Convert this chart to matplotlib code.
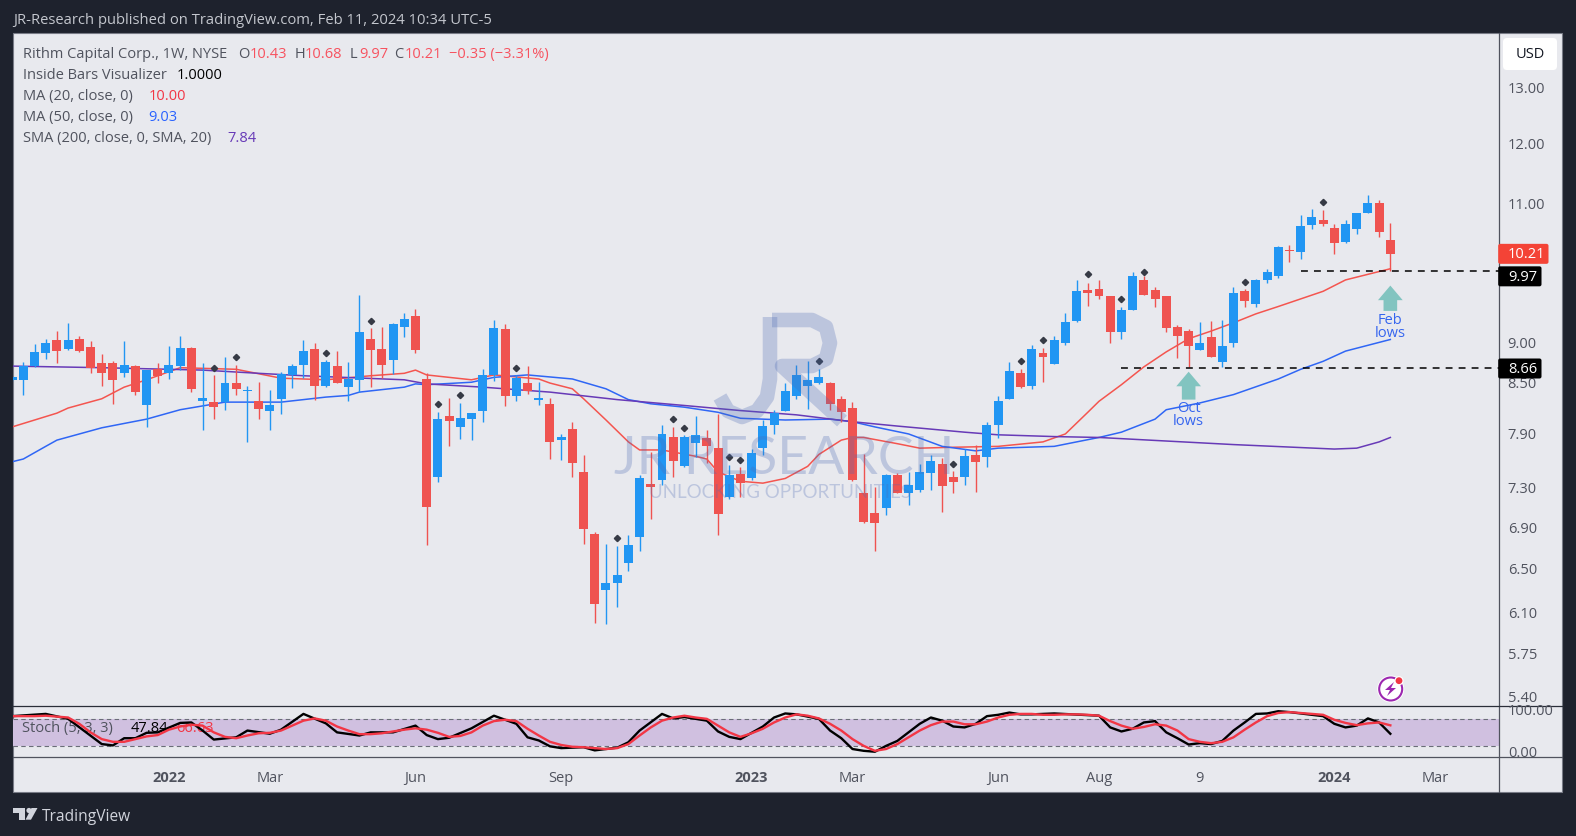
import matplotlib
matplotlib.use("Agg")
from matplotlib import pyplot as plt
from matplotlib.patches import Rectangle, FancyBboxPatch, Polygon, Circle

W, H = 1576, 837
LEFT, RIGHT, TOP, BOTTOM = 13.4, 1498.7, 34, 792.7
PANE_TOP, PANE_BOTTOM = 707.3, 758.3
DARK = "#1e222d"
CHART_BG = "#e8e9ee"
TXT = "#50535e"
BLUE = "#2196f3"
RED = "#ef5350"

# weekly candles, one entry per bar
opens = [8.52,8.52,8.69,8.86,9.02,8.91,9.04,8.93,8.73,8.73,8.60,8.69,8.22,8.65,8.60,8.69,8.92,8.26,8.25,8.25,
         8.48,8.38,8.26,8.15,8.29,8.58,8.70,8.91,8.44,8.69,8.43,8.52,9.04,8.91,8.77,9.19,9.34,8.53,7.41,8.09,
         7.96,8.05,8.14,8.58,9.17,8.32,8.48,8.27,8.23,7.81,7.94,7.46,6.82,6.29,6.36,6.54,6.79,7.33,7.37,7.84,
         7.52,7.78,7.83,7.72,7.20,7.44,7.39,7.72,7.98,8.14,8.32,8.44,8.48,8.48,8.29,8.18,7.24,7.03,7.08,7.43,
         7.24,7.27,7.45,7.55,7.41,7.41,7.64,7.62,7.98,8.29,8.60,8.44,8.86,8.72,8.98,9.28,9.70,9.71,9.61,9.13,
         9.42,9.84,9.70,9.61,9.20,9.14,8.89,9.06,8.74,8.98,9.68,9.50,9.84,9.90,10.28,10.25,10.65,10.73,10.60,10.39,
         10.59,10.84,11.00,10.43]
closes = [8.55,8.69,8.87,8.99,8.88,9.02,8.88,8.67,8.60,8.52,8.70,8.37,8.64,8.57,8.70,8.92,8.41,8.30,8.19,8.48,
          8.41,8.40,8.17,8.22,8.59,8.69,8.88,8.45,8.74,8.48,8.53,9.13,8.89,8.70,9.24,9.30,8.89,7.09,8.05,8.03,
          8.06,8.12,8.58,9.18,8.32,8.54,8.38,8.30,7.79,7.85,7.56,6.87,6.17,6.36,6.43,6.71,7.39,7.30,7.88,7.58,
          7.85,7.87,7.74,7.02,7.43,7.34,7.67,7.97,8.12,8.38,8.58,8.52,8.55,8.23,8.13,7.37,6.94,6.93,7.43,7.24,
          7.32,7.46,7.58,7.31,7.35,7.63,7.57,7.98,8.26,8.63,8.43,8.91,8.80,9.02,9.26,9.68,9.66,9.61,9.13,9.42,
          9.90,9.63,9.57,9.18,9.08,8.95,8.98,8.80,8.95,9.66,9.55,9.84,9.95,10.32,10.26,10.63,10.77,10.66,10.38,10.66,
          10.83,11.00,10.54,10.21]
highs = [8.56,8.74,8.97,9.04,9.14,9.25,9.07,9.01,8.84,8.75,9.01,8.70,8.64,8.73,8.95,9.07,8.93,8.73,8.58,8.80,
         8.70,8.44,8.49,8.40,8.62,8.72,9.02,8.98,8.77,8.88,8.74,9.63,9.18,9.20,9.25,9.38,9.44,8.60,8.13,8.30,
         8.24,8.12,8.65,9.29,9.24,8.58,8.69,8.49,8.30,7.88,8.02,7.64,6.84,6.72,6.70,6.81,7.43,7.68,7.98,7.96,
         7.87,8.09,7.92,8.11,7.54,7.51,7.71,8.04,8.16,8.48,8.70,8.75,8.65,8.49,8.32,8.25,7.65,7.30,7.44,7.45,
         7.46,7.55,7.64,7.61,7.47,7.71,7.76,8.02,8.32,8.74,8.65,8.96,8.92,9.08,9.38,9.84,9.79,9.84,9.61,9.46,
         9.95,9.90,9.74,9.61,9.22,9.17,9.26,9.28,9.29,9.74,9.71,9.85,10.00,10.33,10.35,10.81,10.90,10.88,10.66,10.73,
         10.84,11.12,11.04,10.68]
lows = [8.51,8.33,8.68,8.78,8.73,8.90,8.87,8.60,8.44,8.23,8.55,8.33,7.96,8.48,8.53,8.64,8.37,7.92,8.05,8.16,
        8.33,7.79,8.05,7.92,8.11,8.42,8.54,8.28,8.43,8.48,8.26,8.37,8.43,8.54,8.59,9.06,8.85,6.71,7.35,7.74,
        7.82,7.81,8.02,8.51,8.20,8.26,8.35,8.22,7.60,7.59,7.41,6.72,6.00,5.99,6.14,6.47,6.66,6.97,7.32,7.41,
        7.51,7.62,7.56,6.81,7.17,7.20,7.37,7.64,7.88,8.14,8.29,8.17,8.47,8.16,8.02,7.36,6.93,6.66,7.01,7.24,
        7.11,7.25,7.27,7.04,7.24,7.32,7.25,7.51,7.83,8.29,8.42,8.41,8.49,8.72,8.96,9.26,9.48,9.57,8.98,9.04,
        9.42,9.63,9.46,9.13,8.79,8.68,8.89,8.80,8.68,8.93,9.46,9.46,9.79,9.87,10.10,10.14,10.59,10.63,10.21,10.38,
        10.51,10.84,10.47,9.97]

# moving averages, read at the bars where the line bends
ma20_idx = [0,4,5,8,9,10,12,15,20,24,28,32,35,36,37,41,43,47,48,50,51,53,55,56,58,61,62,63,65,67,69,71,72,74,75,76,79,81,84,88,92,94,96,97,99,101,103,105,107,109,111,113,117,119,121,123]
ma20 = [7.96,8.12,8.18,8.29,8.36,8.43,8.52,8.67,8.65,8.54,8.52,8.57,8.60,8.64,8.58,8.52,8.58,8.53,8.48,8.41,8.29,8.04,7.79,7.70,7.70,7.63,7.60,7.46,7.36,7.34,7.39,7.52,7.65,7.81,7.84,7.84,7.77,7.72,7.73,7.74,7.79,7.88,8.13,8.26,8.46,8.68,8.87,9.04,9.14,9.25,9.37,9.47,9.68,9.84,9.92,10.00]
ma50_idx = [0,1,3,4,8,10,12,15,19,24,28,30,31,35,36,37,41,43,46,50,53,55,57,60,63,65,69,73,75,77,80,83,86,88,93,95,97,99,102,103,106,109,113,115,117,119,123]
ma50 = [7.57,7.60,7.74,7.81,7.95,8.00,8.05,8.16,8.25,8.25,8.31,8.33,8.37,8.43,8.47,8.46,8.49,8.55,8.58,8.53,8.41,8.28,8.23,8.19,8.13,8.06,8.04,8.05,8.02,7.96,7.88,7.74,7.69,7.72,7.74,7.79,7.84,7.90,8.05,8.16,8.24,8.34,8.53,8.65,8.75,8.88,9.03]
sma200_idx = [0,8,17,22,26,35,37,42,48,52,54,60,65,70,75,79,85,88,93,97,109,118,120,122,123]
sma200 = [8.69,8.67,8.64,8.60,8.57,8.52,8.47,8.43,8.37,8.31,8.28,8.21,8.15,8.10,8.02,7.97,7.90,7.87,7.85,7.84,7.76,7.71,7.72,7.79,7.84]

# inside bar markers
inside_idx = [18,20,28,32,38,40,45,54,59,60,64,65,72,84,90,92,96,99,101,110,117]
inside_px = [8.67,8.80,8.86,9.28,8.23,8.33,8.67,6.78,8.05,7.95,7.62,7.59,8.75,7.55,8.75,9.02,9.92,9.57,9.95,9.81,11.01]

# stochastic pane
stoch_k_idx = [0,3,5,8,9,10,11,12,13,15,16,17,18,20,21,23,24,26,28,29,31,32,34,36,37,38,39,41,43,45,46,47,48,49,51,52,54,55,56,58,59,60,62,63,64,65,67,68,69,70,72,73,74,75,76,77,78,79,81,82,83,84,85,86,87,88,89,90,91,93,97,98,99,100,101,102,103,104,105,106,107,108,109,110,111,112,113,114,117,118,119,120,121,122,123]
stoch_k = [87,92,81,25,22,38,38,50,51,72,73,55,35,40,55,48,57,92,71,51,44,51,51,66,45,36,39,60,88,70,40,33,20,16,18,11,17,29,55,92,82,85,77,53,41,36,64,84,93,91,81,55,38,14,10,8,21,32,70,84,77,64,62,70,87,90,95,91,91,93,88,62,53,59,73,76,51,38,24,27,25,32,55,73,92,93,98,96,87,70,62,66,82,73,47.84]
stoch_d = [87,87,87,88,86,84,70,51,36,30,30,36,42,45,57,64,68,66,51,41,38,44,49,50,55,66,77,82,77,64,55,47,47,49,53,57,60,57,50,41,43,51,66,76,79,76,59,44,30,23,19,18,16,14,16,25,44,62,77,84,88,84,81,66,51,41,49,59,73,84,91,88,82,70,55,36,21,10,14,25,40,55,67,75,75,69,69,75,84,90,92,92,90,90,91,91,90,88,76,66,59,63,69,66,55,36,30,27,30,40,57,73,87,94,96,94,92,90,79,72,67,71,73,66.63]

price_ticks = [13.0,12.0,11.0,9.0,8.5,7.9,7.3,6.9,6.5,6.1,5.75,5.4]
time_tick_idx = [14,23,36,49,66,75,88,97,106,118,127]
time_tick_labels = ["2022","Mar","Jun","Sep","2023","Mar","Jun","Aug","9","2024","Mar"]

plt.rcParams["font.family"] = ["Open Sans", "DejaVu Sans"]

fig = plt.figure(figsize=(W/100, H/100), dpi=100, facecolor=DARK)


def frac_axes(l, t, r, b, **kw):
    return fig.add_axes([l/W, 1-b/H, (r-l)/W, (b-t)/H], **kw)


# chart background, everything below draws on top of it
bg = fig.add_axes([0, 0, 1, 1], zorder=0)
bg.set_xlim(0, W); bg.set_ylim(H, 0); bg.axis("off")
bg.add_patch(Rectangle((LEFT, TOP), 1562-LEFT, BOTTOM-TOP, fc=CHART_BG, ec="#787b86", lw=0.8))

x_lim = (0.116, 132.67)

ax = frac_axes(LEFT, TOP, RIGHT, PANE_TOP, zorder=1)
ax.patch.set_visible(False)
ax.set_yscale("log")
ax.set_xlim(*x_lim)
ax.set_ylim(5.32, 14.05)

ax.plot(ma20_idx, ma20, color="#f4554f", lw=1.1, zorder=2)
ax.plot(ma50_idx, ma50, color="#2f66f5", lw=1.1, zorder=2)
ax.plot(sma200_idx, sma200, color="#673ab7", lw=1.1, zorder=2)

for i, (o, h, l, c) in enumerate(zip(opens, highs, lows, closes)):
    col = BLUE if c >= o else RED
    ax.vlines(i, l, h, color=col, lw=1.0, zorder=3)
    ax.bar(i, abs(c-o), bottom=min(o, c), width=0.8, color=col, lw=0, zorder=4)

ax.plot(inside_idx, inside_px, ls="none", marker="D", ms=3.2, color="#363a45", zorder=5)

ax.hlines(8.66, 99, x_lim[1], color="black", lw=1.1, linestyles=(0, (4.5, 4)), zorder=5)
ax.hlines(9.97, 115, x_lim[1], color="black", lw=1.1, linestyles=(0, (4.5, 4)), zorder=5)

# Oct / Feb lows arrows
for idx, tip, tail in [(105, 8.62, 8.28), (123, 9.76, 9.41)]:
    ax.annotate("", xy=(idx, tip), xytext=(idx, tail),
                arrowprops=dict(width=9.8, headwidth=17.8, headlength=10.5, shrink=0,
                                color="#82c4c0", lw=0), zorder=6)
ax.text(105, 8.11, "Oct\nlows", color="#3565ee", fontsize=10.5, ha="center", va="center", linespacing=0.8, zorder=7)
ax.text(123, 9.21, "Feb\nlows", color="#3565ee", fontsize=10.5, ha="center", va="center", linespacing=0.8, zorder=7)

ax.yaxis.tick_right()
ax.set_yticks(price_ticks)
ax.set_yticklabels(["%.2f" % t for t in price_ticks])
ax.minorticks_off()
ax.tick_params(axis="y", length=0, pad=6.5, labelsize=10.5, labelcolor=TXT)
ax.set_xticks([])
for s in ax.spines.values():
    s.set_visible(False)

st = frac_axes(LEFT, PANE_TOP, RIGHT, PANE_BOTTOM, zorder=1)
st.patch.set_visible(False)
st.set_xlim(*x_lim)
st.set_ylim(-4.4, 108.9)
st.axhspan(20, 80, color="#d0c0e0", lw=0, zorder=1)
st.hlines([20, 80], *x_lim, color="#6a6d78", lw=0.8, linestyles=(0, (4, 3)), zorder=2)
st.plot(stoch_k_idx, stoch_k, color="black", lw=1.7, zorder=4)
st.plot(range(len(stoch_d)), stoch_d, color="#f23645", lw=1.7, zorder=5)
st.set_yticks([])
st.set_xticks(time_tick_idx)
st.set_xticklabels(time_tick_labels)
st.tick_params(axis="x", length=0, pad=9, labelsize=10.5, labelcolor=TXT)
for lbl in st.get_xticklabels():
    if len(lbl.get_text()) == 4:
        lbl.set_fontweight("bold")
for s in st.spines.values():
    s.set_visible(False)

# stoch legend sits under its lines
for x, s, c in [(22.4, "Stoch (5, 3, 3)", TXT), (131, "47.84", "black"), (176, "66.63", "#f23645")]:
    st.text((x-LEFT)/(RIGHT-LEFT), 0.594, s, transform=st.transAxes, color=c, fontsize=10.5, va="center", zorder=3)

# top layer: watermark, header, legend, price labels
top = fig.add_axes([0, 0, 1, 1], zorder=3)
top.set_xlim(0, W); top.set_ylim(H, 0); top.axis("off")
top.patch.set_visible(False)

wm = (75/255, 105/255, 180/255, 0.28)
# logo letters of the watermark, J and R as thick strokes
top.plot([770, 770, 767, 757, 742, 728, 720], [318, 380, 398, 412, 418, 412, 398],
         color=wm, lw=10.5, solid_capstyle="butt", solid_joinstyle="round")
top.plot([772, 812, 826, 830, 826, 812, 782, 842], [321, 321, 328, 344, 360, 367, 367, 422],
         color=wm, lw=10.5, solid_capstyle="butt", solid_joinstyle="round")
top.text(784, 459, "JR RESEARCH", fontsize=38.5, family="Lato", color=wm, ha="center", va="center")
top.text(780, 493, "UNLOCKING OPPORTUNITIES", fontsize=13.5, family="Lato", color=wm, ha="center", va="center")

top.plot([RIGHT, RIGHT], [TOP, BOTTOM], color="#50535e", lw=0.9)
top.plot([LEFT, 1562], [PANE_TOP, PANE_TOP], color="#2a2e39", lw=0.9)
top.plot([LEFT, 1562], [PANE_BOTTOM, PANE_BOTTOM], color="#50535e", lw=0.9)

top.text(13.4, 20, "JR-Research published on TradingView.com, Feb 11, 2024 10:34 UTC-5",
         color="#c4c7ce", fontsize=10.65, va="center")

RED_T = "#f7525f"
legend_bits = [
    (23, 54, "Rithm Capital Corp., 1W, NYSE", TXT), (238, 54, "O", TXT), (250, 54, "10.43", RED_T),
    (295, 54, "H", TXT), (305, 54, "10.68", RED_T), (350, 54, "L", TXT), (359, 54, "9.97", RED_T),
    (394.6, 54, "C", TXT), (404.6, 54, "10.21", RED_T), (449, 54, "\u22120.35 (\u22123.31%)", RED_T),
    (23, 75, "Inside Bars Visualizer", TXT), (176.6, 75, "1.0000", "black"),
    (23, 96, "MA (20, close, 0)", TXT), (148.7, 96, "10.00", "#f23645"),
    (23, 117, "MA (50, close, 0)", TXT), (148.7, 117, "9.03", "#2962ff"),
    (23, 138, "SMA (200, close, 0, SMA, 20)", TXT), (227, 138, "7.84", "#673ab7"),
]
for x, y, s, c in legend_bits:
    top.text(x, y, s, color=c, fontsize=10.5, va="center")

top.text(1508, 711.7, "100.00", color=TXT, fontsize=10.5, va="center")
top.text(1508, 753.5, "0.00", color=TXT, fontsize=10.5, va="center")

# USD button
top.add_patch(FancyBboxPatch((1506, 42), 48, 26, boxstyle="round,pad=3,rounding_size=4", fc="white", ec="none"))
top.text(1530, 54.5, "USD", color="#131722", fontsize=10.5, ha="center", va="center")


def price_y(p):
    return H - ax.transData.transform((1, p))[1]


# last price / level tags on the price scale
for p, s, fc, x1, dy in [(8.66, "8.66", "black", 1542, 0), (9.97, "9.97", "black", 1542, 5.5),
                         (10.21, "10.21", "#f44336", 1549, -0.5)]:
    y = price_y(p) + dy
    top.add_patch(FancyBboxPatch((RIGHT+1, y-8.5), x1-RIGHT-3, 17, boxstyle="round,pad=1.5,rounding_size=2",
                                 fc=fc, ec="none", zorder=4))
    top.text(1508, y, s, color="white", fontsize=10.5, va="center", zorder=5)

# replay badge near the pane divider
top.add_patch(Circle((1390.7, 690), 13.5, fc="white", ec="none"))
top.add_patch(Circle((1390.7, 690), 11.5, fc="none", ec="#9c27b0", lw=1.5))
top.add_patch(Polygon([(1394, 683), (1385, 691), (1390, 691), (1387, 697), (1396, 689), (1391, 689)], fc="#9c27b0", ec="none"))
top.add_patch(Circle((1399, 681.7), 4.6, fc="white", ec="none"))
top.add_patch(Circle((1399, 681.7), 3.4, fc="#f23645", ec="none"))

# TradingView logo
logo_c = "#d1d4dc"
top.add_patch(Polygon([(13.3, 809), (25, 809), (25, 820.7), (19.5, 820.7), (19.5, 814), (13.3, 814)], fc=logo_c, ec="none"))
top.add_patch(Circle((29, 811.5), 2.6, fc=logo_c, ec="none"))
top.add_patch(Polygon([(31.5, 809), (37.5, 809), (31, 820.7), (25.5, 820.7)], fc=logo_c, ec="none"))
top.text(42, 817, "TradingView", color=logo_c, fontsize=11.2, va="center")

fig.savefig("out.png", dpi=100, facecolor=DARK)
